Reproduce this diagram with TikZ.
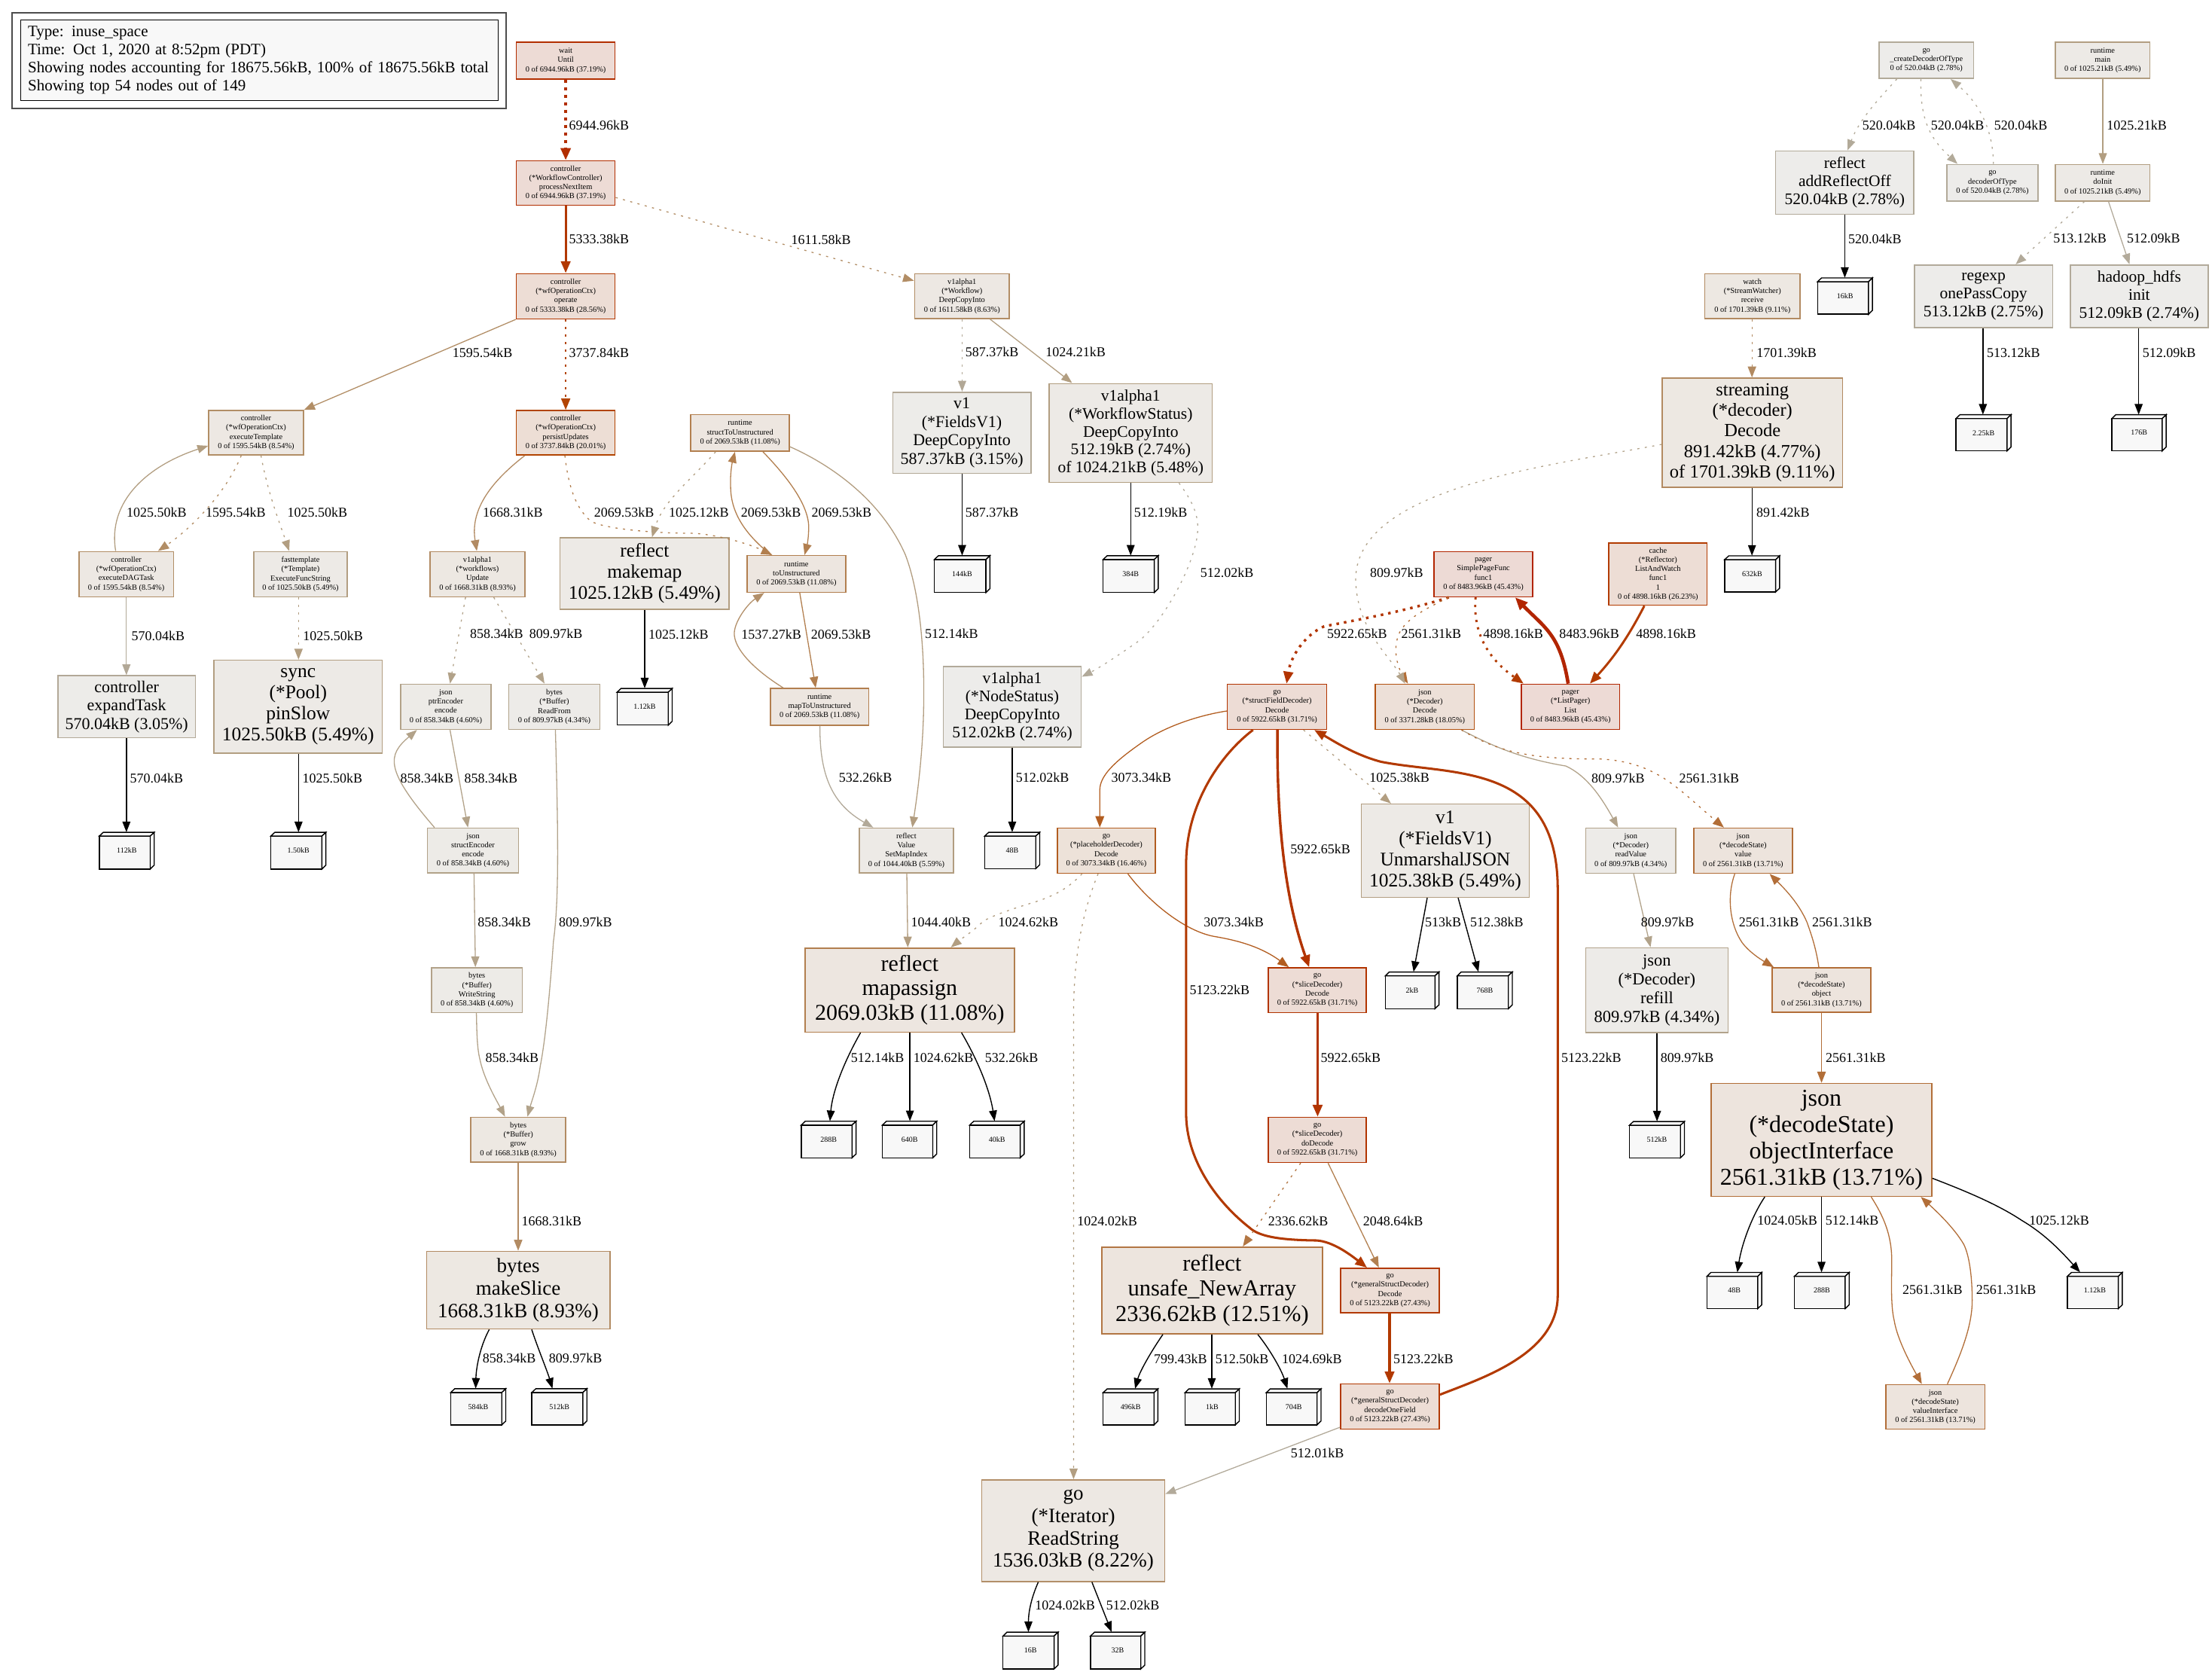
\documentclass[tikz,border=0pt]{standalone}
\usepackage{fontspec}
\setmainfont{Liberation Serif}
\usetikzlibrary{arrows.meta}
\definecolor{leaffill}{HTML}{F8F8F8}
\newcount\lblno
% colours follow the percentage shown on a node or edge
\newcommand{\setcol}[1]{%
  \pgfmathsetmacro\pcS{#1/100}%
  \pgfmathsetmacro\pcSat{min(1,\pcS/0.2)}%
  \pgfmathsetmacro\pcX{\pcSat*pow(\pcS,0.3)}%
  \pgfmathsetmacro\pcEg{0.698*(1-\pcX)}%
  \pgfmathsetmacro\pcEb{0.698*(1-\pcSat)}%
  \pgfmathsetmacro\pcFg{0.929*(1-0.1*\pcX)}%
  \pgfmathsetmacro\pcFb{0.929*(1-0.1*\pcSat)}%
  \definecolor{edgec}{rgb}{0.698,\pcEg,\pcEb}%
  \definecolor{fillc}{rgb}{0.929,\pcFg,\pcFb}%
}
\tikzset{
  pnode/.style={draw=edgec,fill=fillc,line width=1.6pt,inner sep=0pt,align=center},
  leafnode/.style={inner sep=0pt,align=center,font=\fontsize{10}{11.4}\selectfont},
  leafshape/.style={draw=black,line width=1.4pt,fill=leaffill,line join=miter},
  edgelabel/.style={inner sep=0pt,font=\fontsize{18}{20}\selectfont},
  solidedge/.style={},
  dottededge/.style={dash pattern=on \pcOn off \pcOff},
  legendbox/.style={draw=black,line width=1pt,fill=leaffill,inner sep=0pt,align=left,text width=634pt,
    font=\fontsize{21}{24}\selectfont},
  legendframe/.style={draw=black!70,line width=1.8pt,inner sep=0pt}
}
% name, left, top, right, bottom, percent, font size, text
\newcommand{\nd}[8]{%
  \setcol{#6}%
  \pgfmathsetlengthmacro\nw{(#4-#2)*1.8731}%
  \pgfmathsetlengthmacro\nh{(#5-#3)*1.8731}%
  \pgfmathsetmacro\npitch{#7*1.05+1.3}%
  \node[pnode,minimum width=\nw,minimum height=\nh,font=\fontsize{#7}{\npitch}\selectfont]
    (#1) at ({(#2+#4)/2},{(#3+#5)/2}) {#8};%
}
% name, left, top, right, bottom, text
\newcommand{\leaf}[6]{%
  \pgfmathsetmacro\lfx{#4-2.8}\pgfmathsetmacro\lfy{#3+2.7}%
  \draw[leafshape] (#2,#5) rectangle (\lfx,\lfy);%
  \draw[leafshape,fill=white] (#2,\lfy) -- ({#2+2.8},#3) -- (#4,#3) -- (\lfx,\lfy) -- cycle;%
  \draw[leafshape,fill=white] (\lfx,\lfy) -- (#4,#3) -- (#4,{#5-2.7}) -- (\lfx,#5) -- cycle;%
  \pgfmathsetlengthmacro\nw{(#4-#2)*1.8731}%
  \pgfmathsetlengthmacro\nh{(#5-#3)*1.8731}%
  \node[leafnode,minimum width=\nw,minimum height=\nh] (#1) at ({(#2+#4)/2},{(#3+#5)/2}) {#6};%
}
% percent, style, path, label position, label
\newcommand{\conn}[5]{%
  \setcol{#1}%
  \pgfmathsetlengthmacro\pcLw{ifthenelse(#1<18,1.3,0.6+#1*0.089)}%
  \pgfmathsetlengthmacro\pcOn{max(2.8,\pcLw)}%
  \pgfmathsetlengthmacro\pcOff{10pt-\pcOn}%
  \pgfmathsetlengthmacro\pcTl{14+#1*0.06}%
  \pgfmathsetlengthmacro\pcTw{10.5+#1*0.07}%
  \draw[draw=edgec,fill=none,line width=\pcLw,#2,-{Triangle[length=\pcTl,width=\pcTw,fill=edgec]}] #3;%
  \global\advance\lblno by 1
  \node[edgelabel] (lb\the\lblno) at (#4) {#5};%
}
% leaf edge: black
\newcommand{\lconn}[3]{%
  \draw[draw=black,line width=1.4pt,-{Triangle[length=14pt,width=10.5pt,fill=black]}] #1;%
  \global\advance\lblno by 1
  \node[edgelabel] (lb\the\lblno) at (#2) {#3};%
}
\begin{document}
\begin{tikzpicture}[x=1.8731pt,y=-1.8731pt]
\useasboundingbox (0,0) rectangle (1568,1185.2);
% legend
\node[legendframe,minimum width=656pt,minimum height=127pt] (legendouter) at (183.7,42.8) {};
\node[legendbox,minimum width=634pt,minimum height=107pt] (legend) at (183.7,42.8) {%
\hspace*{10pt}\begin{tabular}{@{}l@{}}Type: inuse\_space\\Time: Oct 1, 2020 at 8:52pm (PDT)\\Showing nodes accounting for 18675.56kB, 100\% of 18675.56kB total\\Showing top 54 nodes out of 149\end{tabular}};
% nodes
\nd{wait}{366}{30}{436}{56}{37.19}{10.4}{wait\\Until\\0 of 6944.96kB (37.19\%)}
\nd{pni}{366}{114}{436}{145.5}{37.19}{10.4}{controller\\(*WorkflowController)\\processNextItem\\0 of 6944.96kB (37.19\%)}
\nd{operate}{366}{194}{436}{226}{28.56}{10.4}{controller\\(*wfOperationCtx)\\operate\\0 of 5333.38kB (28.56\%)}
\nd{persist}{366}{291}{436}{322.5}{20.01}{10.4}{controller\\(*wfOperationCtx)\\persistUpdates\\0 of 3737.84kB (20.01\%)}
\nd{extpl}{148}{291}{215}{322.5}{8.54}{10.4}{controller\\(*wfOperationCtx)\\executeTemplate\\0 of 1595.54kB (8.54\%)}
\nd{wfdeep}{648.3}{194}{715.5}{225.8}{8.63}{10.4}{v1alpha1\\(*Workflow)\\DeepCopyInto\\0 of 1611.58kB (8.63\%)}
\nd{s2u}{489.6}{294}{559.6}{319.8}{11.08}{10.4}{runtime\\structToUnstructured\\0 of 2069.53kB (11.08\%)}
\nd{exdag}{56}{391}{123}{423}{8.54}{10.4}{controller\\(*wfOperationCtx)\\executeDAGTask\\0 of 1595.54kB (8.54\%)}
\nd{exfunc}{180}{391}{246}{423}{5.49}{10.4}{fasttemplate\\(*Template)\\ExecuteFuncString\\0 of 1025.50kB (5.49\%)}
\nd{update}{305}{391}{372}{423}{8.93}{10.4}{v1alpha1\\(*workflows)\\Update\\0 of 1668.31kB (8.93\%)}
\nd{makemap}{397}{381.2}{516.8}{432}{5.49}{25.5}{reflect\\makemap\\1025.12kB (5.49\%)}
\nd{tounst}{529.5}{393.8}{599.5}{419.8}{11.08}{10.4}{runtime\\toUnstructured\\0 of 2069.53kB (11.08\%)}
\nd{m2u}{546}{488}{615.9}{514}{11.08}{10.4}{runtime\\mapToUnstructured\\0 of 2069.53kB (11.08\%)}
\nd{fdeep}{632.8}{278}{730.8}{335.6}{3.15}{22}{v1\\(*FieldsV1)\\DeepCopyInto\\587.37kB (3.15\%)}
\nd{wsdeep}{743.7}{271.9}{859.3}{341.9}{5.48}{21.5}{v1alpha1\\(*WorkflowStatus)\\DeepCopyInto\\512.19kB (2.74\%)\\of 1024.21kB (5.48\%)}
\nd{expand}{41}{479}{138.5}{523}{3.05}{22}{controller\\expandTask\\570.04kB (3.05\%)}
\nd{pinslow}{151.6}{468}{271}{534}{5.49}{25.5}{sync\\(*Pool)\\pinSlow\\1025.50kB (5.49\%)}
\nd{ptrenc}{284}{485}{348}{517}{4.60}{10.4}{json\\ptrEncoder\\encode\\0 of 858.34kB (4.60\%)}
\nd{readfrom}{360.6}{485}{425.3}{517}{4.34}{10.4}{bytes\\(*Buffer)\\ReadFrom\\0 of 809.97kB (4.34\%)}
\nd{strenc}{303}{587}{367.6}{618.6}{4.60}{10.4}{json\\structEncoder\\encode\\0 of 858.34kB (4.60\%)}
\nd{wstring}{305.8}{686}{370.3}{717.7}{4.60}{10.4}{bytes\\(*Buffer)\\WriteString\\0 of 858.34kB (4.60\%)}
\nd{grow}{333.8}{792}{401}{823.7}{8.93}{10.4}{bytes\\(*Buffer)\\grow\\0 of 1668.31kB (8.93\%)}
\nd{mkslice}{302.4}{887}{432.3}{942}{8.93}{27}{bytes\\makeSlice\\1668.31kB (8.93\%)}
\nd{nodestat}{668.7}{472.5}{766.4}{529.5}{2.74}{21.5}{v1alpha1\\(*NodeStatus)\\DeepCopyInto\\512.02kB (2.74\%)}
\nd{setmap}{609}{587}{676}{618.8}{5.59}{10.4}{reflect\\Value\\SetMapIndex\\0 of 1044.40kB (5.59\%)}
\nd{mapassign}{570.7}{672}{719}{731.6}{11.08}{30}{reflect\\mapassign\\2069.03kB (11.08\%)}
\nd{phdec}{749.5}{587}{819}{619}{16.46}{10.4}{go\\(*placeholderDecoder)\\Decode\\0 of 3073.34kB (16.46\%)}
\nd{sfdec}{870}{485}{940.5}{517}{31.71}{10.4}{go\\(*structFieldDecoder)\\Decode\\0 of 5922.65kB (31.71\%)}
\nd{jsdec}{975}{485}{1045}{517}{18.05}{10.4}{json\\(*Decoder)\\Decode\\0 of 3371.28kB (18.05\%)}
\nd{list}{1078.5}{485}{1148}{517}{45.43}{10.4}{pager\\(*ListPager)\\List\\0 of 8483.96kB (45.43\%)}
\nd{spf}{1016.5}{391}{1086.5}{423}{45.43}{10.4}{pager\\SimplePageFunc\\func1\\0 of 8483.96kB (45.43\%)}
\nd{cache}{1140.5}{385}{1210}{429}{26.23}{10.4}{cache\\(*Reflector)\\ListAndWatch\\func1\\1\\0 of 4898.16kB (26.23\%)}
\nd{unmarshal}{965}{570}{1084}{636}{5.49}{25.5}{v1\\(*FieldsV1)\\UnmarshalJSON\\1025.38kB (5.49\%)}
\nd{readval}{1124}{587}{1188}{619}{4.34}{10.4}{json\\(*Decoder)\\readValue\\0 of 809.97kB (4.34\%)}
\nd{jsvalue}{1200.6}{587}{1270.6}{619}{13.71}{10.4}{json\\(*decodeState)\\value\\0 of 2561.31kB (13.71\%)}
\nd{refill}{1124}{671.9}{1225}{732}{4.34}{22.5}{json\\(*Decoder)\\refill\\809.97kB (4.34\%)}
\nd{jsobj}{1256.3}{686}{1326}{717.6}{13.71}{10.4}{json\\(*decodeState)\\object\\0 of 2561.31kB (13.71\%)}
\nd{objint}{1213}{768}{1369.3}{848}{13.71}{32}{json\\(*decodeState)\\objectInterface\\2561.31kB (13.71\%)}
\nd{valint}{1336.7}{981.5}{1407}{1013.1}{13.71}{10.4}{json\\(*decodeState)\\valueInterface\\0 of 2561.31kB (13.71\%)}
\nd{slicedec}{899}{686}{968.6}{717.7}{31.71}{10.4}{go\\(*sliceDecoder)\\Decode\\0 of 5922.65kB (31.71\%)}
\nd{dodec}{899}{792}{968.6}{824}{31.71}{10.4}{go\\(*sliceDecoder)\\doDecode\\0 of 5922.65kB (31.71\%)}
\nd{gsdec}{950.3}{899}{1020.3}{930.6}{27.43}{10.4}{go\\(*generalStructDecoder)\\Decode\\0 of 5123.22kB (27.43\%)}
\nd{onefield}{950.3}{981}{1020.3}{1013}{27.43}{10.4}{go\\(*generalStructDecoder)\\decodeOneField\\0 of 5123.22kB (27.43\%)}
\nd{newarr}{781}{884}{937.4}{945.5}{12.51}{30.5}{reflect\\unsafe\_NewArray\\2336.62kB (12.51\%)}
\nd{readstr}{696}{1049}{825.6}{1121}{8.22}{27}{go\\(*Iterator)\\ReadString\\1536.03kB (8.22\%)}
\nd{createdec}{1332}{30}{1399}{55.6}{2.78}{10.4}{go\\\_createDecoderOfType\\0 of 520.04kB (2.78\%)}
\nd{rtmain}{1457}{30}{1524}{55.6}{5.49}{10.4}{runtime\\main\\0 of 1025.21kB (5.49\%)}
\nd{addreflect}{1258.6}{107}{1356.7}{151.8}{2.78}{21.5}{reflect\\addReflectOff\\520.04kB (2.78\%)}
\nd{decoftype}{1380}{116.6}{1444.7}{142.4}{2.78}{10.4}{go\\decoderOfType\\0 of 520.04kB (2.78\%)}
\nd{doinit}{1457}{116.6}{1524}{142.4}{5.49}{10.4}{runtime\\doInit\\0 of 1025.21kB (5.49\%)}
\nd{regexp}{1357}{187.8}{1455}{232.2}{2.75}{21.5}{regexp\\onePassCopy\\513.12kB (2.75\%)}
\nd{hadoop}{1467.5}{187.8}{1565.3}{232.2}{2.74}{21.5}{hadoop\_hdfs\\init\\512.09kB (2.74\%)}
\nd{watchn}{1208.4}{194}{1276}{225.8}{9.11}{10.4}{watch\\(*StreamWatcher)\\receive\\0 of 1701.39kB (9.11\%)}
\nd{streaming}{1178.3}{268}{1306.1}{345.4}{9.11}{24.5}{streaming\\(*decoder)\\Decode\\891.42kB (4.77\%)\\of 1701.39kB (9.11\%)}
% leaves
\leaf{lf16a}{1288.4}{197}{1327.3}{222.7}{16kB}
\leaf{lf225}{1386.5}{294}{1425.5}{319.6}{2.25kB}
\leaf{lf176}{1497}{294}{1535.5}{319.6}{176B}
\leaf{lf632}{1222.6}{394}{1261.5}{419.6}{632kB}
\leaf{lf144}{662.4}{393.9}{701.7}{420}{144kB}
\leaf{lf384}{782}{393.9}{821}{420}{384B}
\leaf{lf112a}{437.4}{488}{476.5}{514}{1.12kB}
\leaf{lf112}{70.4}{590}{109.3}{616}{112kB}
\leaf{lf150}{192}{590}{231}{616}{1.50kB}
\leaf{lf48a}{698}{590}{737}{615.7}{48B}
\leaf{lf2}{982}{689}{1020}{715}{2kB}
\leaf{lf768}{1033}{689}{1072}{715}{768B}
\leaf{lf512a}{1155}{795}{1194}{820.7}{512kB}
\leaf{lf48b}{1210}{902}{1248.8}{927.6}{48B}
\leaf{lf288b}{1272}{902}{1310.8}{927.6}{288B}
\leaf{lf112b}{1465.5}{902}{1504.4}{927.6}{1.12kB}
\leaf{lf288a}{568}{794.8}{606.8}{820.7}{288B}
\leaf{lf640}{625.5}{794.8}{664}{820.7}{640B}
\leaf{lf40}{687.4}{794.8}{726}{820.7}{40kB}
\leaf{lf584}{319.5}{984.4}{358.5}{1010}{584kB}
\leaf{lf512b}{377}{984.4}{416}{1010}{512kB}
\leaf{lf496}{782}{984.5}{820.8}{1010}{496kB}
\leaf{lf1}{840}{984.5}{878.5}{1010}{1kB}
\leaf{lf704}{897.6}{984.5}{936.4}{1010}{704B}
\leaf{lf16b}{711}{1157}{750}{1183}{16B}
\leaf{lf32}{773}{1157}{811.5}{1183}{32B}
% edges: top left
\conn{37.19}{dottededge}{(wait) -- (pni)}{424.6,88.6}{6944.96kB}
\conn{28.56}{solidedge}{(pni) -- (operate)}{424.6,169.5}{5333.38kB}
\conn{8.63}{dottededge}{(pni.east |- 0,140) -- (wfdeep.west |- 0,199)}{582,170}{1611.58kB}
\conn{8.54}{solidedge}{(operate.south west) -- (extpl.north east)}{342,250}{1595.54kB}
\conn{20.01}{dottededge}{(operate) -- (persist)}{424.6,250}{3737.84kB}
\conn{5.49}{solidedge}{(exdag.north -| 82,0) .. controls (76,355) and (105,330) .. (extpl.west |- 0,316)}{111,363}{1025.50kB}
\conn{8.54}{dottededge}{(extpl.south -| 171,0) .. controls (160,350) and (135,375) .. (exdag.north -| 112,0)}{167,363}{1595.54kB}
\conn{5.49}{dottededge}{(extpl.south -| 185,0) .. controls (190,350) and (198,370) .. (exfunc.north -| 205,0)}{225,363}{1025.50kB}
\conn{8.93}{solidedge}{(persist.south -| 372,0) .. controls (350,340) and (333,360) .. (update.north -| 338,0)}{363.5,363}{1668.31kB}
\conn{11.08}{dottededge}{(persist.south -| 400.4,0) .. controls (403,345) and (408,360) .. (418.6,369.3) .. controls (428,375) and (465,378) .. (489,378) .. controls (505,378) and (530,385) .. (tounst.north -| 547.4,0)}{442.4,363}{2069.53kB}
\conn{5.49}{dottededge}{(s2u.south -| 507.3,0) .. controls (490,340) and (470,355) .. (makemap.north -| 462.2,0)}{495.4,363}{1025.12kB}
\conn{11.08}{solidedge}{(tounst.north -| 546.5,0) .. controls (530,380) and (518,365) .. (517.9,345) .. controls (517.5,335) and (519,328) .. (s2u.south -| 521,0)}{546.5,363}{2069.53kB}
\conn{11.08}{solidedge}{(s2u.south -| 540.8,0) .. controls (555,335) and (572,355) .. (573.2,372) .. controls (573.5,380) and (572,387) .. (tounst.north -| 570.3,0)}{596.6,363}{2069.53kB}
\conn{5.59}{solidedge}{(s2u.east |- 0,316.7) .. controls (590,330) and (625,355) .. (641.8,393.3) .. controls (652,420) and (655,460) .. (654.8,491) .. controls (655,530) and (650,565) .. (setmap.north -| 646.7,0)}{674.5,449}{512.14kB}
\conn{11.08}{solidedge}{(tounst.south -| 566.9,0) -- (m2u.north -| 578.2,0)}{596.2,449.5}{2069.53kB}
\conn{8.23}{solidedge}{(m2u.north -| 555.2,0) .. controls (535,475) and (520,460) .. (520.5,448.5) .. controls (521,440) and (530,428) .. (tounst.south -| 541.7,0)}{546.7,449.5}{1537.27kB}
\conn{2.85}{solidedge}{(m2u.south -| 581.2,0) .. controls (581,550) and (590,570) .. (setmap.north -| 619,0)}{613.5,551}{532.26kB}
\conn{5.59}{solidedge}{(setmap.south -| 642.8,0) -- (mapassign.north -| 643.5,0)}{667,653.5}{1044.40kB}
\conn{5.49}{dottededge}{(phdec.south -| 767,0) .. controls (755,632) and (745,635) .. (738,638) .. controls (725,642) and (705,648) .. (697,653) .. controls (690,660) and (682,665) .. (mapassign.north -| 674,0)}{729,653.5}{1024.62kB}
\conn{5.48}{dottededge}{(phdec.south -| 778.4,0) .. controls (770,640) and (761,670) .. (761,720) -- (readstr.north -| 761,0)}{784.8,865.4}{1024.02kB}
\conn{16.46}{solidedge}{(phdec.south -| 799.5,0) .. controls (815,640) and (840,660) .. (860.7,663.8) .. controls (880,667) and (895,672) .. (slicedec.north -| 913.6,0)}{874.5,653.5}{3073.34kB}
\conn{16.46}{solidedge}{(sfdec.west |- 0,504) .. controls (850,507) and (825,515) .. (808,527.4) .. controls (790,540) and (779.6,550) .. (779.6,560) -- (phdec.north -| 779.6,0)}{809,551}{3073.34kB}
\conn{31.71}{solidedge}{(sfdec.south -| 905.5,0) .. controls (905,590) and (912,640) .. (slicedec.north -| 928,0)}{936,602}{5922.65kB}
\conn{27.43}{solidedge}{(sfdec.south -| 888.2,0) .. controls (865,535) and (841,570) .. (840.8,611.8) -- (840.8,790) .. controls (841,820) and (860,850) .. (885.7,870.2) .. controls (892,876) and (905,879) .. (933.3,879.3) .. controls (945,880) and (958,890) .. (gsdec.north -| 969,0)}{864.6,701.6}{5123.22kB}
\conn{27.43}{solidedge}{(onefield.east |- 0,988.6) .. controls (1050,977) and (1104.2,960) .. (1104.2,918.3) -- (1104.2,630) .. controls (1104,540) and (1030,550) .. (979,540) .. controls (960,535) and (945,525) .. (sfdec.south -| 931.6,0)}{1128,749.6}{5123.22kB}
\conn{5.49}{dottededge}{(sfdec.south -| 924,0) -- (unmarshal.north -| 986,0)}{992,551}{1025.38kB}
\conn{31.71}{solidedge}{(slicedec.south -| 934,0) -- (dodec.north -| 934,0)}{957.5,749.6}{5922.65kB}
\conn{10.97}{solidedge}{(dodec.south -| 941.4,0) -- (gsdec.north -| 977.4,0)}{987.4,865.4}{2048.64kB}
\conn{12.51}{dottededge}{(dodec.south -| 922,0) -- (newarr.north -| 881,0)}{920.2,865.4}{2336.62kB}
\conn{27.43}{solidedge}{(gsdec.south -| 985,0) -- (onefield.north -| 985,0)}{1008.9,963.1}{5123.22kB}
\conn{2.74}{solidedge}{(onefield.west |- 0,1011.7) -- (readstr.east |- 0,1059)}{933.8,1030}{512.01kB}
\conn{31.71}{dottededge}{(spf.south -| 1027,0) .. controls (1000,432) and (975,437) .. (938.6,444) .. controls (925,450) and (915,465) .. (sfdec.north -| 912,0)}{962,449}{5922.65kB}
\conn{13.71}{dottededge}{(spf.south -| 1027,0) .. controls (1010,432) and (992,440) .. (990,455) .. controls (988,465) and (992,475) .. (jsdec.north -| 998,0)}{1014.5,449}{2561.31kB}
\conn{26.23}{dottededge}{(spf.south -| 1046,0) .. controls (1044,445) and (1052,465) .. (list.north -| 1080,0)}{1072.6,449}{4898.16kB}
\conn{45.43}{solidedge}{(list.north -| 1111.6,0) .. controls (1106,450) and (1095,445) .. (spf.south -| 1074,0)}{1126.5,449}{8483.96kB}
\conn{26.23}{solidedge}{(cache.south -| 1165.6,0) .. controls (1155,450) and (1145,465) .. (list.north -| 1127,0)}{1181,449}{4898.16kB}
\conn{4.34}{dottededge}{(streaming.west |- 0,315) .. controls (1100,330) and (962,345) .. (961,410) .. controls (961,445) and (985,465) .. (jsdec.north -| 996,0)}{990,406}{809.97kB}
\conn{4.34}{solidedge}{(jsdec.south -| 1036,0) .. controls (1060,530) and (1080,538) .. (1110,543) .. controls (1125,550) and (1135,565) .. (readval.north -| 1147,0)}{1147,551.5}{809.97kB}
\conn{13.71}{dottededge}{(jsdec.south -| 1036,0) .. controls (1065,535) and (1090,538) .. (1134,538) .. controls (1175,540) and (1190,560) .. (jsvalue.north -| 1222,0)}{1211.6,551.5}{2561.31kB}
\conn{4.34}{solidedge}{(readval.south -| 1158,0) -- (refill.north -| 1170,0)}{1182,653.5}{809.97kB}
\conn{13.71}{solidedge}{(jsvalue.south -| 1229.7,0) .. controls (1224,635) and (1226,655) .. (1234.8,668) .. controls (1240,675) and (1248,680) .. (jsobj.north -| 1257.3,0)}{1253.9,653.5}{2561.31kB}
\conn{13.71}{solidedge}{(jsobj.north -| 1289.3,0) .. controls (1287,670) and (1283,660) .. (1281,654) .. controls (1275,640) and (1265,630) .. (jsvalue.south -| 1254.4,0)}{1305.8,653.5}{2561.31kB}
\conn{13.71}{solidedge}{(jsobj.south -| 1291.2,0) -- (objint.north -| 1291.2,0)}{1315.4,749.5}{2561.31kB}
\conn{13.71}{solidedge}{(objint.south -| 1326.4,0) .. controls (1335,862) and (1341,875) .. (1341,894) .. controls (1341,905) and (1340,925) .. (1342.7,936) .. controls (1345,950) and (1355,968) .. (valint.north -| 1362.3,0)}{1369.9,914}{2561.31kB}
\conn{13.71}{solidedge}{(valint.north -| 1380.4,0) .. controls (1390,960) and (1398,940) .. (1398,922) .. controls (1398,905) and (1396,890) .. (1392,882) .. controls (1385,870) and (1372,858) .. (objint.south -| 1361.6,0)}{1422,914}{2561.31kB}
% edges: top right
\conn{2.78}{dottededge}{(createdec.south -| 1344.6,0) .. controls (1330,72) and (1318,85) .. (addreflect.north -| 1309.6,0)}{1339,88.6}{520.04kB}
\conn{2.78}{dottededge}{(createdec.south -| 1361.6,0) .. controls (1361,85) and (1368,98) .. (decoftype.north -| 1387.6,0)}{1387.6,88.6}{520.04kB}
\conn{2.78}{dottededge}{(decoftype.north -| 1413,0) .. controls (1413,95) and (1405,75) .. (createdec.south -| 1382.7,0)}{1432.4,88.6}{520.04kB}
\conn{5.49}{solidedge}{(rtmain.south -| 1490.6,0) -- (doinit.north -| 1490.6,0)}{1514.6,88.6}{1025.21kB}
\conn{2.75}{dottededge}{(doinit.south -| 1477.6,0) -- (regexp.north -| 1428.8,0)}{1474.3,169}{513.12kB}
\conn{2.74}{solidedge}{(doinit.south -| 1494.6,0) -- (hadoop.north -| 1509.5,0)}{1526.5,169}{512.09kB}
\conn{9.11}{dottededge}{(watchn.south -| 1241.9,0) -- (streaming.north -| 1241.9,0)}{1266.4,250}{1701.39kB}
\conn{3.15}{dottededge}{(wfdeep.south -| 682,0) -- (fdeep.north -| 682,0)}{703.2,249.5}{587.37kB}
\conn{5.48}{solidedge}{(wfdeep.south -| 701.8,0) -- (wsdeep.north -| 760,0)}{762.5,249.5}{1024.21kB}
\conn{2.74}{dottededge}{(wsdeep.south -| 835.7,0) .. controls (845,355) and (850,365) .. (848.9,377.5) .. controls (847,400) and (825,440) .. (808,453.8) .. controls (795,463) and (780,473) .. (nodestat.east |- 0,479.7)}{869.8,406}{512.02kB}
\conn{3.05}{solidedge}{(exdag.south -| 89.6,0) -- (expand.north -| 89.6,0)}{112,451}{570.04kB}
\conn{5.49}{dottededge}{(exfunc.south -| 211.6,0) -- (pinslow.north -| 211.6,0)}{236,451}{1025.50kB}
\conn{4.60}{dottededge}{(update.south -| 330,0) -- (ptrenc.north -| 319,0)}{352,449}{858.34kB}
\conn{4.34}{dottededge}{(update.south -| 350,0) -- (readfrom.north -| 386,0)}{394,449}{809.97kB}
\conn{4.60}{solidedge}{(strenc.north -| 308,0) .. controls (272,545) and (275,535) .. (ptrenc.south -| 295.6,0)}{302.7,551.5}{858.34kB}
\conn{4.60}{solidedge}{(ptrenc.south -| 319,0) -- (strenc.north -| 331.7,0)}{348,551.5}{858.34kB}
\conn{4.60}{solidedge}{(strenc.south -| 336,0) -- (wstring.north -| 337,0)}{357.5,653.5}{858.34kB}
\conn{4.60}{solidedge}{(wstring.south -| 337.7,0) .. controls (338,730) and (338,742) .. (340.1,750.6) .. controls (343,765) and (352,780) .. (grow.north -| 358,0)}{363,749.6}{858.34kB}
\conn{4.34}{solidedge}{(readfrom.south -| 393.7,0) .. controls (396,600) and (396,640) .. (392.3,667.4) .. controls (390,700) and (387,735) .. (383,755.5) .. controls (381,770) and (377,780) .. (grow.north -| 373.9,0)}{415,653.5}{809.97kB}
\conn{8.93}{solidedge}{(grow.south -| 367.3,0) -- (mkslice.north -| 367.3,0)}{391,865.4}{1668.31kB}
% edges to leaves
\lconn{(addreflect.south -| 1307.7,0) -- (lf16a.north -| 1307.7,0)}{1329,169.5}{520.04kB}
\lconn{(regexp.south -| 1405.6,0) -- (lf225.north -| 1405.6,0)}{1427.3,250}{513.12kB}
\lconn{(hadoop.south -| 1516,0) -- (lf176.north -| 1516,0)}{1537.6,250}{512.09kB}
\lconn{(streaming.south -| 1241.9,0) -- (lf632.north -| 1241.9,0)}{1263.9,363}{891.42kB}
\lconn{(fdeep.south -| 682,0) -- (lf144.north -| 682,0)}{703.2,363}{587.37kB}
\lconn{(wsdeep.south -| 801.5,0) -- (lf384.north -| 801.5,0)}{822.8,363}{512.19kB}
\lconn{(makemap.south -| 457,0) -- (lf112a.north -| 457,0)}{481,449.5}{1025.12kB}
\lconn{(expand.south -| 89.6,0) -- (lf112.north -| 89.6,0)}{111,551.5}{570.04kB}
\lconn{(pinslow.south -| 211.6,0) -- (lf150.north -| 211.6,0)}{235.6,551.5}{1025.50kB}
\lconn{(nodestat.south -| 717.5,0) -- (lf48a.north -| 717.5,0)}{739,551}{512.02kB}
\lconn{(unmarshal.south -| 1011.7,0) -- (lf2.north -| 1002,0)}{1023,653.5}{513kB}
\lconn{(unmarshal.south -| 1033.6,0) -- (lf768.north -| 1048,0)}{1061,653.5}{512.38kB}
\lconn{(refill.south -| 1174.6,0) -- (lf512a.north -| 1174.6,0)}{1196,749.5}{809.97kB}
\lconn{(objint.south -| 1251,0) .. controls (1243,860) and (1235,880) .. (lf48b.north -| 1231.5,0)}{1267,865}{1024.05kB}
\lconn{(objint.south -| 1291.2,0) -- (lf288b.north -| 1291.2,0)}{1312.9,865}{512.14kB}
\lconn{(objint.east |- 0,835.2) .. controls (1390,843) and (1415,853) .. (1433,865) .. controls (1450,875) and (1462,888) .. (lf112b.north -| 1474.5,0)}{1459.7,865}{1025.12kB}
\lconn{(mapassign.south -| 610,0) .. controls (597,755) and (590,775) .. (lf288a.north -| 588.3,0)}{622,749.6}{512.14kB}
\lconn{(mapassign.south -| 645,0) -- (lf640.north -| 645,0)}{668.7,749.6}{1024.62kB}
\lconn{(mapassign.south -| 681.6,0) .. controls (695,755) and (702,775) .. (lf40.north -| 705,0)}{717,749.6}{532.26kB}
\lconn{(mkslice.south -| 346.8,0) .. controls (340,955) and (337.5,970) .. (lf584.north -| 337.2,0)}{360.9,962.9}{858.34kB}
\lconn{(mkslice.south -| 376.9,0) .. controls (381,955) and (388,972) .. (lf512b.north -| 391.6,0)}{407.9,962.9}{809.97kB}
\lconn{(newarr.south -| 824.3,0) .. controls (816,958) and (808,972) .. (lf496.north -| 804.6,0)}{836.8,963.1}{799.43kB}
\lconn{(newarr.south -| 859,0) -- (lf1.north -| 859,0)}{880.4,963.1}{512.50kB}
\lconn{(newarr.south -| 891.6,0) .. controls (899,955) and (908,970) .. (lf704.north -| 912.6,0)}{930,963.1}{1024.69kB}
\lconn{(readstr.south -| 736,0) .. controls (730,1135) and (729,1145) .. (lf16b.north -| 729,0)}{755,1138}{1024.02kB}
\lconn{(readstr.south -| 774,0) -- (lf32.north -| 788,0)}{803,1138}{512.02kB}
\end{tikzpicture}
\end{document}
